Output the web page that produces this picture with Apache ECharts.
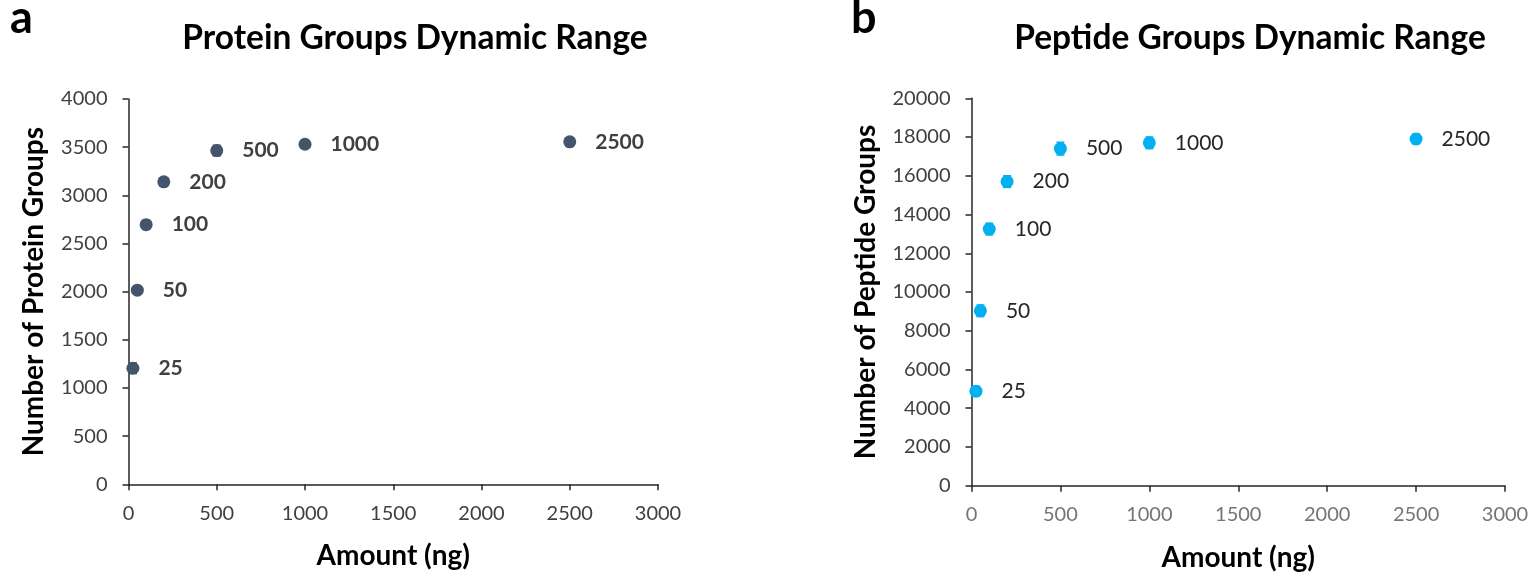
<!DOCTYPE html>
<html>
<head>
<meta charset="utf-8">
<script src="https://cdn.jsdelivr.net/npm/echarts@6/dist/echarts.min.js"></script>
<style>
html,body{margin:0;padding:0;background:#fff;}
#chart{width:1536px;height:585px;}
</style>
</head>
<body>
<div id="chart"></div>
<script>
const amounts = [25, 50, 100, 200, 500, 1000, 2500];
const proteinGroups = [1205, 2015, 2695, 3140, 3465, 3530, 3555];
const proteinErr = [55, 35, 45, 40, 55, 40, 35];
const peptideGroups = [4880, 9030, 13250, 15700, 17400, 17700, 17900];
const peptideErr = [250, 300, 300, 300, 330, 300, 250];

const panelLetters = ['a', 'b'];
const panelTitles = ['Protein Groups Dynamic Range', 'Peptide Groups Dynamic Range'];
const yTitles = ['Number of Protein Groups', 'Number of Peptide Groups'];
const xTitle = 'Amount (ng)';

const FONT = 'Lato';
const protColor = '#44546A';
const pepColor = '#00B0F0';

const chart = echarts.init(document.getElementById('chart'), null, {renderer: 'canvas'});

function errRender(color) {
  return function (params, api) {
    const x = api.value(0), y = api.value(1), e = api.value(2);
    const top = api.coord([x, y + e]);
    const bot = api.coord([x, y - e]);
    const w = 4;
    const st = {stroke: color, lineWidth: 1.5};
    return {
      type: 'group',
      children: [
        {type: 'line', shape: {x1: top[0], y1: top[1], x2: bot[0], y2: bot[1]}, style: st},
        {type: 'line', shape: {x1: top[0] - w, y1: top[1], x2: top[0] + w, y2: top[1]}, style: st},
        {type: 'line', shape: {x1: bot[0] - w, y1: bot[1], x2: bot[0] + w, y2: bot[1]}, style: st}
      ]
    };
  };
}

const plain = v => String(v);

function xAxisCfg(gi, labelColor) {
  return {
    type: 'value', gridIndex: gi, min: 0, max: 3000, interval: 500,
    name: xTitle, nameLocation: 'middle', nameGap: 58,
    nameTextStyle: {fontFamily: FONT, fontWeight: 'bold', fontSize: 28, color: '#000'},
    axisLine: {show: true, onZero: false, lineStyle: {color: '#262626', width: 1.5}},
    axisTick: {show: true, inside: false, length: 6, lineStyle: {color: '#262626', width: 1.5}},
    axisLabel: {margin: 19, fontFamily: FONT, fontSize: 20, color: labelColor, formatter: plain},
    splitLine: {show: false}
  };
}
function yAxisCfg(gi, max, interval, name, gap) {
  return {
    type: 'value', gridIndex: gi, min: 0, max: max, interval: interval,
    name: name, nameLocation: 'middle', nameGap: gap,
    nameTextStyle: {fontFamily: FONT, fontWeight: 'bold', fontSize: 28, color: '#000'},
    axisLine: {show: true, onZero: false, lineStyle: {color: '#262626', width: 1.5}},
    axisTick: {show: true, inside: false, length: 6, lineStyle: {color: '#262626', width: 1.5}},
    axisLabel: {margin: 21, fontFamily: FONT, fontSize: 20, color: '#404040', formatter: plain},
    splitLine: {show: false}
  };
}

const option = {
  backgroundColor: '#ffffff',
  animation: false,
  grid: [
    {left: 128.5, top: 99, width: 529.5, height: 385.3},
    {left: 971.5, top: 98.3, width: 533.5, height: 387.4}
  ],
  xAxis: [xAxisCfg(0, '#404040'), xAxisCfg(1, '#757575')],
  yAxis: [
    yAxisCfg(0, 4000, 500, yTitles[0], 81),
    yAxisCfg(1, 20000, 2000, yTitles[1], 92)
  ],
  graphic: [
    {type: 'text', left: 10, top: -4, style: {text: panelLetters[0], fontFamily: FONT, fontWeight: 'bold', fontSize: 45, fill: '#000'}},
    {type: 'text', left: 851, top: -4, style: {text: panelLetters[1], fontFamily: FONT, fontWeight: 'bold', fontSize: 45, fill: '#000'}},
    {type: 'text', x: 415, y: 38, style: {text: panelTitles[0], fontFamily: FONT, fontWeight: 'bold', fontSize: 33.5, fill: '#000', align: 'center', verticalAlign: 'middle'}},
    {type: 'text', x: 1250, y: 38, style: {text: panelTitles[1], fontFamily: FONT, fontWeight: 'bold', fontSize: 33.5, fill: '#000', align: 'center', verticalAlign: 'middle'}}
  ],
  series: [
    {
      type: 'custom', xAxisIndex: 0, yAxisIndex: 0, z: 1,
      renderItem: errRender(protColor),
      encode: {x: 0, y: 1},
      data: amounts.map((a, i) => [a, proteinGroups[i], proteinErr[i]])
    },
    {
      type: 'custom', xAxisIndex: 1, yAxisIndex: 1, z: 1,
      renderItem: errRender(pepColor),
      encode: {x: 0, y: 1},
      data: amounts.map((a, i) => [a, peptideGroups[i], peptideErr[i]])
    },
    {
      type: 'scatter', xAxisIndex: 0, yAxisIndex: 0, z: 2,
      symbol: 'circle', symbolSize: 13,
      itemStyle: {color: protColor, opacity: 1},
      label: {
        show: true, position: 'right', distance: 19,
        formatter: p => String(p.value[0]),
        fontFamily: FONT, fontWeight: 'bold', fontSize: 21, color: '#404040'
      },
      data: amounts.map((a, i) => [a, proteinGroups[i]])
    },
    {
      type: 'scatter', xAxisIndex: 1, yAxisIndex: 1, z: 2,
      symbol: 'circle', symbolSize: 13,
      itemStyle: {color: pepColor, opacity: 1},
      label: {
        show: true, position: 'right', distance: 19,
        formatter: p => String(p.value[0]),
        fontFamily: FONT, fontWeight: 'normal', fontSize: 21, color: '#262626'
      },
      data: amounts.map((a, i) => [a, peptideGroups[i]])
    }
  ]
};
chart.setOption(option);
</script>
</body>
</html>
